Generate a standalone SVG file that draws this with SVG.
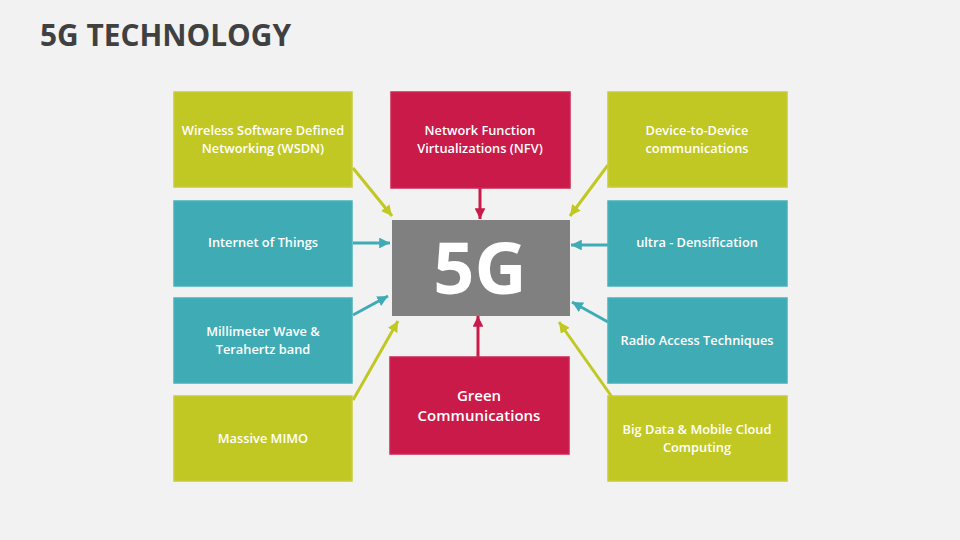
<svg xmlns="http://www.w3.org/2000/svg" width="960" height="540" viewBox="0 0 960 540">
<defs>
<style>
.lime{fill:#C1C823;stroke:#C6CC36;stroke-width:1.5}
.teal{fill:#3FACB5;stroke:#47B1BA;stroke-width:1.5}
.red{fill:#C91A4A;stroke:#CE2452;stroke-width:1.5}
.t{font-family:"Open Sans","Liberation Sans",sans-serif;font-weight:600;font-size:12.8px;fill:#FFFFFF;text-anchor:middle}
.tl{font-family:"Open Sans","Liberation Sans",sans-serif;font-weight:600;font-size:15px;fill:#FFFFFF;text-anchor:middle}
.cl{stroke:#C1C823;stroke-width:3;fill:none}
.ct{stroke:#3FACB5;stroke-width:3;fill:none}
.cr{stroke:#C91A4A;stroke-width:3;fill:none}
</style>
<marker id="ml" viewBox="0 0 10 10" refX="10" refY="5" markerWidth="3.6" markerHeight="3.6" orient="auto" markerUnits="strokeWidth"><path d="M0,0 L10,5 L0,10 z" fill="#C1C823"/></marker>
<marker id="mt" viewBox="0 0 10 10" refX="10" refY="5" markerWidth="3.6" markerHeight="3.6" orient="auto" markerUnits="strokeWidth"><path d="M0,0 L10,5 L0,10 z" fill="#3FACB5"/></marker>
<marker id="mr" viewBox="0 0 10 10" refX="10" refY="5" markerWidth="3.6" markerHeight="3.6" orient="auto" markerUnits="strokeWidth"><path d="M0,0 L10,5 L0,10 z" fill="#C91A4A"/></marker>
</defs>
<rect width="960" height="540" fill="#F2F2F2"/>
<text x="40" y="46" font-family="'Open Sans','Liberation Sans',sans-serif" font-weight="700" font-size="31" fill="#404040" textLength="251" lengthAdjust="spacingAndGlyphs">5G TECHNOLOGY</text>

<g id="connectors">
<line class="cl" x1="353" y1="168" x2="392" y2="216" marker-end="url(#ml)"/>
<line class="ct" x1="353" y1="243" x2="390" y2="243" marker-end="url(#mt)"/>
<line class="ct" x1="353" y1="315" x2="388" y2="296" marker-end="url(#mt)"/>
<line class="cl" x1="353" y1="400" x2="398" y2="321" marker-end="url(#ml)"/>
<line class="cr" x1="480" y1="188" x2="480" y2="219" marker-end="url(#mr)"/>
<line class="cr" x1="478" y1="357" x2="478" y2="316" marker-end="url(#mr)"/>
<line class="cl" x1="608" y1="165" x2="570" y2="216" marker-end="url(#ml)"/>
<line class="ct" x1="608" y1="245" x2="571" y2="245" marker-end="url(#mt)"/>
<line class="ct" x1="608" y1="322" x2="572" y2="302" marker-end="url(#mt)"/>
<line class="cl" x1="612" y1="397" x2="559" y2="322" marker-end="url(#ml)"/>
</g>

<g id="center">
<rect x="392" y="220" width="178" height="96" fill="#808080"/>
<text x="480" y="294" font-family="'Open Sans','Liberation Sans',sans-serif" font-weight="700" font-size="72" fill="#FFFFFF" text-anchor="middle">5G</text>
</g>

<g id="wsdn">
<rect class="lime" x="174" y="92" width="178" height="95"/>
<text class="t" x="263" y="135">Wireless Software Defined</text>
<text class="t" x="263" y="153">Networking (WSDN)</text>
</g>
<g id="iot">
<rect class="teal" x="174" y="201" width="178" height="85"/>
<text class="t" x="263" y="247">Internet of Things</text>
</g>
<g id="mmwave">
<rect class="teal" x="174" y="298" width="178" height="85"/>
<text class="t" x="263" y="336">Millimeter Wave &amp;</text>
<text class="t" x="263" y="354">Terahertz band</text>
</g>
<g id="mimo">
<rect class="lime" x="174" y="396" width="178" height="85"/>
<text class="t" x="263" y="443">Massive MIMO</text>
</g>

<g id="nfv">
<rect class="red" x="391" y="92" width="179" height="96"/>
<text class="t" x="480" y="135">Network Function</text>
<text class="t" x="480" y="153">Virtualizations (NFV)</text>
</g>
<g id="green">
<rect class="red" x="390" y="357" width="179" height="97"/>
<text class="tl" x="479" y="401">Green</text>
<text class="tl" x="479" y="421">Communications</text>
</g>

<g id="d2d">
<rect class="lime" x="608" y="92" width="179" height="95"/>
<text class="t" x="697" y="135">Device-to-Device</text>
<text class="t" x="697" y="153">communications</text>
</g>
<g id="ultra">
<rect class="teal" x="608" y="201" width="179" height="85"/>
<text class="t" x="697" y="247">ultra - Densification</text>
</g>
<g id="radio">
<rect class="teal" x="608" y="298" width="179" height="85"/>
<text class="t" x="697" y="345">Radio Access Techniques</text>
</g>
<g id="bigdata">
<rect class="lime" x="608" y="396" width="179" height="85"/>
<text class="t" x="697" y="434">Big Data &amp; Mobile Cloud</text>
<text class="t" x="697" y="452">Computing</text>
</g>
</svg>
